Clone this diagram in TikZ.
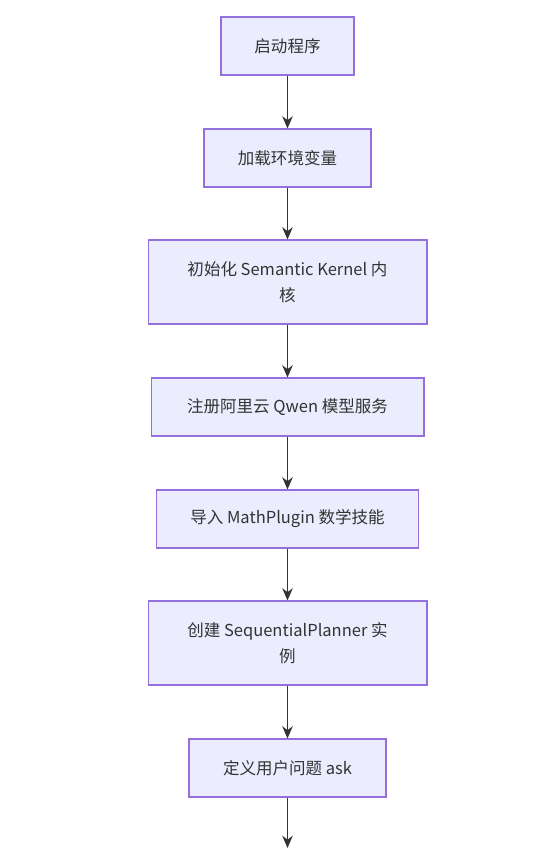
\documentclass[tikz,border=0pt]{standalone}
\usepackage{fontspec}
\setmainfont{Noto Sans CJK SC}
\usepackage{tikz}
\usetikzlibrary{
    arrows.meta,
    positioning
}
\definecolor{boxfill}{HTML}{ECECFF}
\definecolor{boxline}{HTML}{9370DB}
\definecolor{wire}{HTML}{333333}
\tikzset{
    % --- Process step (mermaid-like rectangle) ---
    stepbox/.style = {
        rectangle, draw=boxline, fill=boxfill, line width=0.6pt,
        minimum height=1.16cm, align=center,
        text=wire, font=\fontsize{9.4}{14.7}\selectfont
    },
    % --- Two-line step ---
    tall stepbox/.style = {
        stepbox, minimum height=1.68cm
    },
    % --- Flow arrow ---
    flow arrow/.style = {
        -{Stealth[length=7pt,width=6pt]}, draw=wire, line width=0.8pt
    }
}

\begin{document}
\begin{tikzpicture}[x=0.02cm, y=-0.02cm]

\useasboundingbox (0,0) rectangle (541,849);

% ---------------------------------------------------------
% Steps
% ---------------------------------------------------------
\node[stepbox, minimum width=2.66cm] (Start) at (287.5, 46) {启动程序};
\node[stepbox, minimum width=3.34cm] (LoadEnv) at (287.5, 158) {加载环境变量};
\node[tall stepbox, minimum width=5.58cm] (InitKernel) at (287.5, 282)
    {初始化 Semantic Kernel 内\\核};
\node[stepbox, minimum width=5.46cm] (RegQwen) at (287.5, 407)
    {注册阿里云 Qwen 模型服务};
\node[stepbox, minimum width=5.24cm] (ImportMath) at (287.5, 519)
    {导入 MathPlugin 数学技能};
\node[tall stepbox, minimum width=5.58cm] (Planner) at (287.5, 643)
    {创建 SequentialPlanner 实\\例};
\node[stepbox, minimum width=3.94cm] (Ask) at (287.5, 768) {定义用户问题 ask};

% open end below the last step
\coordinate (Next) at (287.5, 848);

% ---------------------------------------------------------
% Flow
% ---------------------------------------------------------
\draw[flow arrow] (Start) -- (LoadEnv);
\draw[flow arrow] (LoadEnv) -- (InitKernel);
\draw[flow arrow] (InitKernel) -- (RegQwen);
\draw[flow arrow] (RegQwen) -- (ImportMath);
\draw[flow arrow] (ImportMath) -- (Planner);
\draw[flow arrow] (Planner) -- (Ask);
\draw[flow arrow] (Ask) -- (Next);

\end{tikzpicture}
\end{document}
